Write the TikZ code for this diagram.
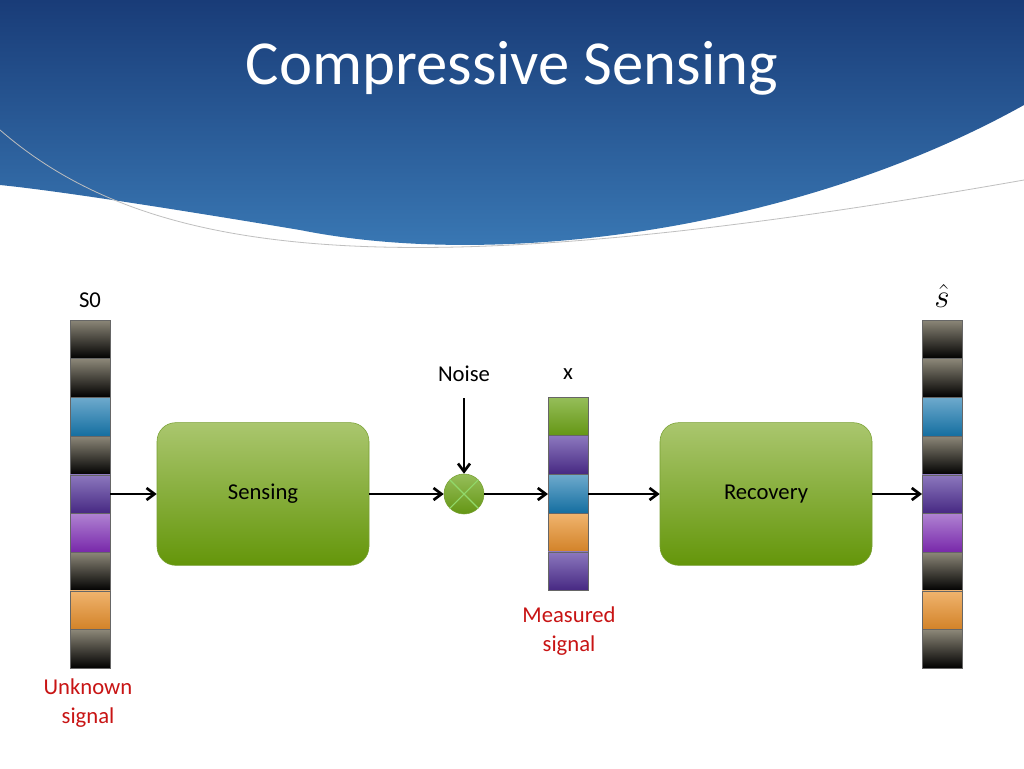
\documentclass[tikz,border=0pt]{standalone}
\usepackage{fontspec}
\setmainfont{Carlito}
\usetikzlibrary{arrows.meta}
\begin{document}
\begin{tikzpicture}[x=0.75pt,y=-0.75pt,
  cellK/.style={top color={rgb,255:red,140;green,135;blue,120}, bottom color=black},
  cellB/.style={top color={rgb,255:red,110;green,170;blue,205}, bottom color={rgb,255:red,20;green,110;blue,160}},
  cellP/.style={top color={rgb,255:red,140;green,120;blue,190}, bottom color={rgb,255:red,70;green,40;blue,130}},
  cellV/.style={top color={rgb,255:red,175;green,130;blue,210}, bottom color={rgb,255:red,120;green,40;blue,170}},
  cellO/.style={top color={rgb,255:red,240;green,180;blue,110}, bottom color={rgb,255:red,210;green,130;blue,40}},
  cellG/.style={top color={rgb,255:red,150;green,190;blue,90}, bottom color={rgb,255:red,100;green,150;blue,20}},
  gbox/.style={rounded corners=14pt, top color={rgb,255:red,170;green,198;blue,110}, bottom color={rgb,255:red,100;green,150;blue,10}, draw={rgb,255:red,120;green,160;blue,50}, minimum width=159pt, minimum height=107pt, font=\fontsize{17}{20}\selectfont},
  arr/.style={-{Straight Barb[length=6pt,width=9pt]}, line width=2pt},
  lbl/.style={font=\fontsize{17}{22}\selectfont, align=center}]
\useasboundingbox (0,0) rectangle (1024,768);
\fill[white] (0,0) rectangle (1024,768);
% header
\shade[top color={rgb,255:red,25;green,60;blue,120}, bottom color={rgb,255:red,60;green,125;blue,185}]
  (0,0) -- (1024,0) -- (1024,105) .. controls (800,230) and (500,270) .. (300,230) .. controls (150,205) and (50,190) .. (0,185) -- cycle;
\draw[gray!50, line width=0.6pt] (0,130) .. controls (150,260) and (400,290) .. (1024,180);
\node[text=white, font=\fontsize{47}{52}\selectfont] (title) at (512,68) {Compressive Sensing};
% bars
\def\bar#1#2#3{%
  \foreach \s [count=\i from 0] in {#3} {
    \path[\s, draw=black!60] (#1,#2+38.7*\i) rectangle (#1+40,#2+38.7*\i+38.7);
  }}
\bar{70}{320}{cellK,cellK,cellB,cellK,cellP,cellV,cellK,cellO,cellK}
\bar{922}{320}{cellK,cellK,cellB,cellK,cellP,cellV,cellK,cellO,cellK}
\bar{548}{397}{cellG,cellP,cellB,cellO,cellP}
\coordinate (L) at (110,494);
\coordinate (M1) at (548,494);
\coordinate (M2) at (588,494);
\coordinate (R) at (922,494);
\node[gbox] (sens) at (263,494) {Sensing};
\node[gbox] (rec) at (766,494) {Recovery};
\node[circle, minimum size=30pt, inner sep=0pt, top color={rgb,255:red,150;green,190;blue,90}, bottom color={rgb,255:red,100;green,150;blue,20}, draw={rgb,255:red,120;green,160;blue,50}] (mix) at (464,494) {};
\draw[white!60!green!70!olive, line width=0.8pt] (mix.north west) -- (mix.south east) (mix.north east) -- (mix.south west);
\node[lbl] (noise) at (464,374) {Noise};
\node[lbl] (x) at (568,374) {x};
\node[lbl] (s0) at (90,300) {S0};
\node[font=\fontsize{26}{28}\selectfont] (sh) at (942,296) {$\hat{s}$};
\node[lbl, text={rgb,255:red,200;green,20;blue,20}] (meas) at (569,631) {Measured\\signal};
\node[lbl, text={rgb,255:red,200;green,20;blue,20}] (unk) at (88,703) {Unknown\\signal};
\draw[arr] (L) -- (sens.west);
\draw[arr] (sens.east) -- (mix.west);
\draw[arr] (mix.east) -- (M1);
\draw[arr] (M2) -- (rec.west);
\draw[arr] (rec.east) -- (R);
\draw[arr] (464,398) -- (mix.north);
\end{tikzpicture}
\end{document}
